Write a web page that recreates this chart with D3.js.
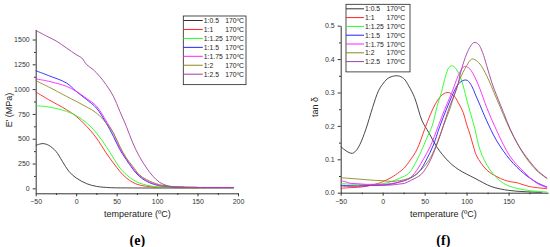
<!DOCTYPE html>
<html>
<head>
<meta charset="utf-8">
<script src="https://cdn.jsdelivr.net/npm/d3@7"></script>
<style>
body { margin: 0; background: #fff; }
svg { display: block; font-family: "Liberation Sans", Arial, sans-serif; }
.tick text { fill: #333; }
.panel-label { font-family: "Liberation Serif", "Times New Roman", serif; font-weight: bold; }
</style>
</head>
<body>
<svg id="chart" width="550" height="247"></svg>
<script>
// legend labels + colours (same for both panels)
var ratios = ["1:0.5", "1:1", "1:1.25", "1:1.5", "1:1.75", "1:2", "1:2.5"];
var colors = ["#333333", "#ff2020", "#20ff20", "#2020ff", "#ff20ff", "#8a8a20", "#a040a0"];

// storage modulus E' (MPa) vs temperature
var eBlack  = [[-50,434],[-41,451],[-34,434],[-25,373],[-17,272],[-9,171],[0,105],[13,47],[25,20],[42,7],[70,4],[120,3],[195,3]];
var eRed    = [[-50,972],[-34,894],[-12,793],[0,726],[13,625],[25,508],[37,357],[46,256],[54,171],[62,105],[70,60],[78,34],[95,14],[120,8],[150,7]];
var eGreen  = [[-50,833],[-34,820],[-12,776],[0,733],[13,659],[25,558],[37,423],[46,306],[54,205],[62,138],[70,88],[78,54],[95,20],[120,9],[150,7]];
var eBlue   = [[-50,1186],[-34,1136],[-12,1062],[0,978],[13,894],[25,810],[37,659],[46,524],[54,390],[62,289],[70,195],[78,121],[87,71],[95,44],[103,27],[119,15],[133,12]];
var eMag    = [[-50,1103],[-34,1079],[-12,1028],[0,978],[13,905],[25,830],[37,680],[46,558],[54,407],[62,300],[70,205],[78,130],[87,78],[95,48],[103,30],[119,16],[140,10],[170,9],[195,9]];
var eOlive  = [[-50,1086],[-34,1022],[-12,927],[0,877],[13,820],[25,760],[37,659],[46,558],[54,423],[62,306],[70,222],[78,138],[87,88],[103,37],[120,18],[150,12]];
var ePurple = [[-50,1593],[-36,1532],[-24,1482],[-12,1415],[0,1348],[7,1314],[13,1247],[21,1197],[29,1129],[37,1045],[46,928],[54,776],[62,625],[70,457],[78,323],[87,205],[95,121],[103,61],[111,31],[119,14],[140,9],[170,8],[195,8]];

// tan delta vs temperature
var tBlack  = [[-50,0.138],[-45,0.128],[-40,0.12],[-36,0.118],[-32,0.125],[-27,0.145],[-20,0.19],[-12,0.255],[-5,0.305],[0,0.325],[5,0.34],[10,0.347],[18,0.35],[25,0.342],[31,0.32],[38,0.285],[47,0.215],[55,0.18],[65,0.135],[78,0.095],[90,0.07],[110,0.043],[130,0.018],[150,0.007],[170,0.003],[190,0.001]];
var tRed    = [[-50,0.013],[-40,0.015],[-30,0.016],[-20,0.019],[-13,0.023],[-5,0.028],[0,0.033],[10,0.045],[20,0.062],[25,0.072],[33,0.098],[41,0.13],[50,0.19],[57,0.235],[65,0.275],[72,0.295],[78,0.30],[85,0.29],[90,0.27],[96,0.24],[100,0.205],[104,0.175],[108,0.14],[112,0.11],[124,0.068],[136,0.048],[145,0.038],[152,0.033],[160,0.03],[166,0.025],[176,0.018],[196,0.012]];
var tGreen  = [[-50,0.027],[-40,0.026],[-30,0.025],[-20,0.024],[-10,0.024],[0,0.027],[10,0.033],[20,0.043],[31,0.058],[41,0.098],[47,0.13],[52,0.16],[59,0.2],[65,0.26],[70,0.3],[75,0.35],[79,0.375],[82,0.38],[86,0.375],[92,0.35],[97,0.31],[101,0.27],[105,0.235],[110,0.19],[116,0.128],[128,0.068],[144,0.028],[160,0.013],[176,0.006],[196,0.002]];
var tBlue   = [[-50,0.022],[-40,0.021],[-30,0.02],[-20,0.021],[-10,0.022],[0,0.023],[10,0.026],[20,0.032],[30,0.04],[40,0.055],[45,0.068],[52,0.098],[60,0.14],[68,0.198],[76,0.25],[84,0.297],[90,0.325],[97,0.337],[101,0.336],[106,0.32],[110,0.297],[116,0.262],[124,0.215],[136,0.155],[152,0.098],[168,0.058],[184,0.03],[196,0.017]];
var tMag    = [[-50,0.036],[-45,0.033],[-38,0.028],[-30,0.027],[-20,0.025],[-10,0.025],[0,0.025],[10,0.027],[20,0.032],[30,0.04],[38,0.058],[48,0.098],[57,0.14],[66,0.198],[74,0.25],[82,0.297],[90,0.35],[96,0.376],[99,0.378],[104,0.37],[110,0.345],[116,0.31],[124,0.255],[136,0.185],[152,0.108],[168,0.063],[184,0.028],[196,0.015]];
var tOlive  = [[-50,0.045],[-40,0.043],[-30,0.041],[-20,0.039],[-10,0.037],[0,0.036],[10,0.034],[20,0.036],[30,0.042],[40,0.055],[50,0.08],[57,0.105],[65,0.15],[72,0.198],[80,0.25],[86,0.297],[92,0.34],[100,0.38],[106,0.4],[110,0.398],[116,0.385],[124,0.35],[136,0.28],[152,0.188],[168,0.115],[184,0.065],[196,0.042]];
var tPurple = [[-50,0.02],[-40,0.019],[-30,0.02],[-20,0.021],[-10,0.022],[0,0.022],[10,0.023],[20,0.026],[26,0.028],[33,0.036],[40,0.045],[46,0.055],[52,0.075],[57,0.098],[64,0.14],[72,0.198],[80,0.26],[88,0.31],[94,0.37],[100,0.415],[105,0.44],[109,0.45],[114,0.445],[119,0.42],[124,0.38],[130,0.33],[136,0.29],[144,0.24],[152,0.19],[160,0.15],[168,0.118],[184,0.068],[196,0.043]];

var eSeries = [eBlack, eRed, eGreen, eBlue, eMag, eOlive, ePurple];
var tSeries = [tBlack, tRed, tGreen, tBlue, tMag, tOlive, tPurple];

var xTicksE = [-50, 0, 50, 100, 150, 200];
var yTicksE = [0, 250, 500, 750, 1000, 1250, 1500];
var xTicksT = [-50, 0, 50, 100, 150];
var yTicksT = [0.0, 0.1, 0.2, 0.3, 0.4, 0.5];

var svg = d3.select("#chart");

function drawPanel(opt) {
    var g = svg.append("g");
    var x = d3.scaleLinear().domain(opt.xDomain).range(opt.xRange);
    var y = d3.scaleLinear().domain(opt.yDomain).range(opt.yRange);

    // minor ticks
    g.append("g")
        .attr("transform", "translate(0," + opt.yRange[0] + ")")
        .call(d3.axisBottom(x).tickValues(opt.xMinor).tickSize(1.5).tickFormat(""))
        .call(function(a) { a.select(".domain").remove(); });
    g.append("g")
        .attr("transform", "translate(" + opt.xRange[0] + ",0)")
        .call(d3.axisLeft(y).tickValues(opt.yMinor).tickSize(1.5).tickFormat(""))
        .call(function(a) { a.select(".domain").remove(); });

    var xAxis = g.append("g")
        .attr("transform", "translate(0," + opt.yRange[0] + ")")
        .call(d3.axisBottom(x).tickValues(opt.xTicks).tickSize(3).tickSizeOuter(0).tickPadding(3));
    var yAxis = g.append("g")
        .attr("transform", "translate(" + opt.xRange[0] + ",0)")
        .call(d3.axisLeft(y).tickValues(opt.yTicks).tickSize(3).tickSizeOuter(0).tickPadding(3)
            .tickFormat(opt.yFormat));
    [xAxis, yAxis].forEach(function(a) {
        a.selectAll("text").attr("font-size", 7).attr("font-family", "Liberation Sans, Arial, sans-serif");
        a.selectAll("line, path").attr("stroke", "#333");
    });

    var line = d3.line()
        .x(function(d) { return x(d[0]); })
        .y(function(d) { return y(d[1]); })
        .curve(d3.curveCatmullRom.alpha(0.5));

    g.append("g").selectAll("path.curve")
        .data(opt.series)
        .enter().append("path")
        .attr("class", "curve")
        .attr("fill", "none")
        .attr("stroke", function(d, i) { return colors[i]; })
        .attr("stroke-width", 0.9)
        .attr("d", line);

    // legend
    var lg = g.append("g").attr("transform", "translate(" + opt.legend[0] + "," + opt.legend[1] + ")");
    lg.append("rect")
        .attr("width", opt.legend[2]).attr("height", 7 * opt.legendStep + 6)
        .attr("fill", "#fff").attr("stroke", "#222").attr("stroke-width", 0.8);
    var rows = lg.selectAll("g.row").data(ratios).enter().append("g")
        .attr("transform", function(d, i) { return "translate(0," + (4.5 + i * opt.legendStep) + ")"; });
    rows.append("line")
        .attr("x1", 0).attr("x2", opt.legendLine)
        .attr("stroke", function(d, i) { return colors[i]; })
        .attr("stroke-width", 1);
    rows.append("text")
        .attr("x", opt.legendLine + 1).attr("y", 2.5)
        .attr("font-size", 6.8).attr("fill", "#222")
        .text(function(d) { return d; });
    rows.append("text")
        .attr("x", opt.legendLine + 22.5).attr("y", 2.5)
        .attr("font-size", 6.8).attr("fill", "#222")
        .text("170ºC");

    // axis titles
    g.append("text")
        .attr("x", (opt.xRange[0] + opt.xRange[1]) / 2 + opt.titleShift)
        .attr("y", 217)
        .attr("text-anchor", "middle")
        .attr("font-size", 9).attr("fill", "#222")
        .text("temperature (ºC)");
    g.append("text")
        .attr("transform", "translate(" + opt.yTitleX + "," + opt.yTitleY + ") rotate(-90)")
        .attr("text-anchor", "middle")
        .attr("font-size", 9).attr("fill", "#222")
        .text(opt.yTitle);
    g.append("text")
        .attr("class", "panel-label")
        .attr("x", (opt.xRange[0] + opt.xRange[1]) / 2 + opt.titleShift)
        .attr("y", 245)
        .attr("text-anchor", "middle")
        .attr("font-size", 14)
        .attr("fill", "#000")
        .text(opt.label);
}

drawPanel({
    xDomain: [-50, 200], xRange: [35.7, 238],
    yDomain: [-50, 1600], yRange: [193.3, 29.6],
    xTicks: xTicksE, yTicks: yTicksE,
    xMinor: d3.range(-25, 200, 50), yMinor: d3.range(125, 1600, 250),
    yFormat: d3.format("d"),
    series: eSeries,
    legend: [183.3, 16, 62.7], legendStep: 8.95, legendLine: 19.5,
    titleShift: 0.5,
    yTitle: "E' (MPa)", yTitleX: 12, yTitleY: 110,
    label: "(e)"
});

drawPanel({
    xDomain: [-50, 197], xRange: [340.7, 548],
    yDomain: [0, 0.5], yRange: [192.7, 25.7],
    xTicks: xTicksT, yTicks: yTicksT,
    xMinor: d3.range(-25, 197, 50), yMinor: [0.05, 0.15, 0.25, 0.35, 0.45],
    yFormat: d3.format(".1f"),
    series: tSeries,
    legend: [346, 4.3, 64], legendStep: 8.8, legendLine: 18,
    titleShift: -1,
    yTitle: "tan δ", yTitleX: 318, yTitleY: 107,
    label: "(f)"
});
</script>
</body>
</html>
